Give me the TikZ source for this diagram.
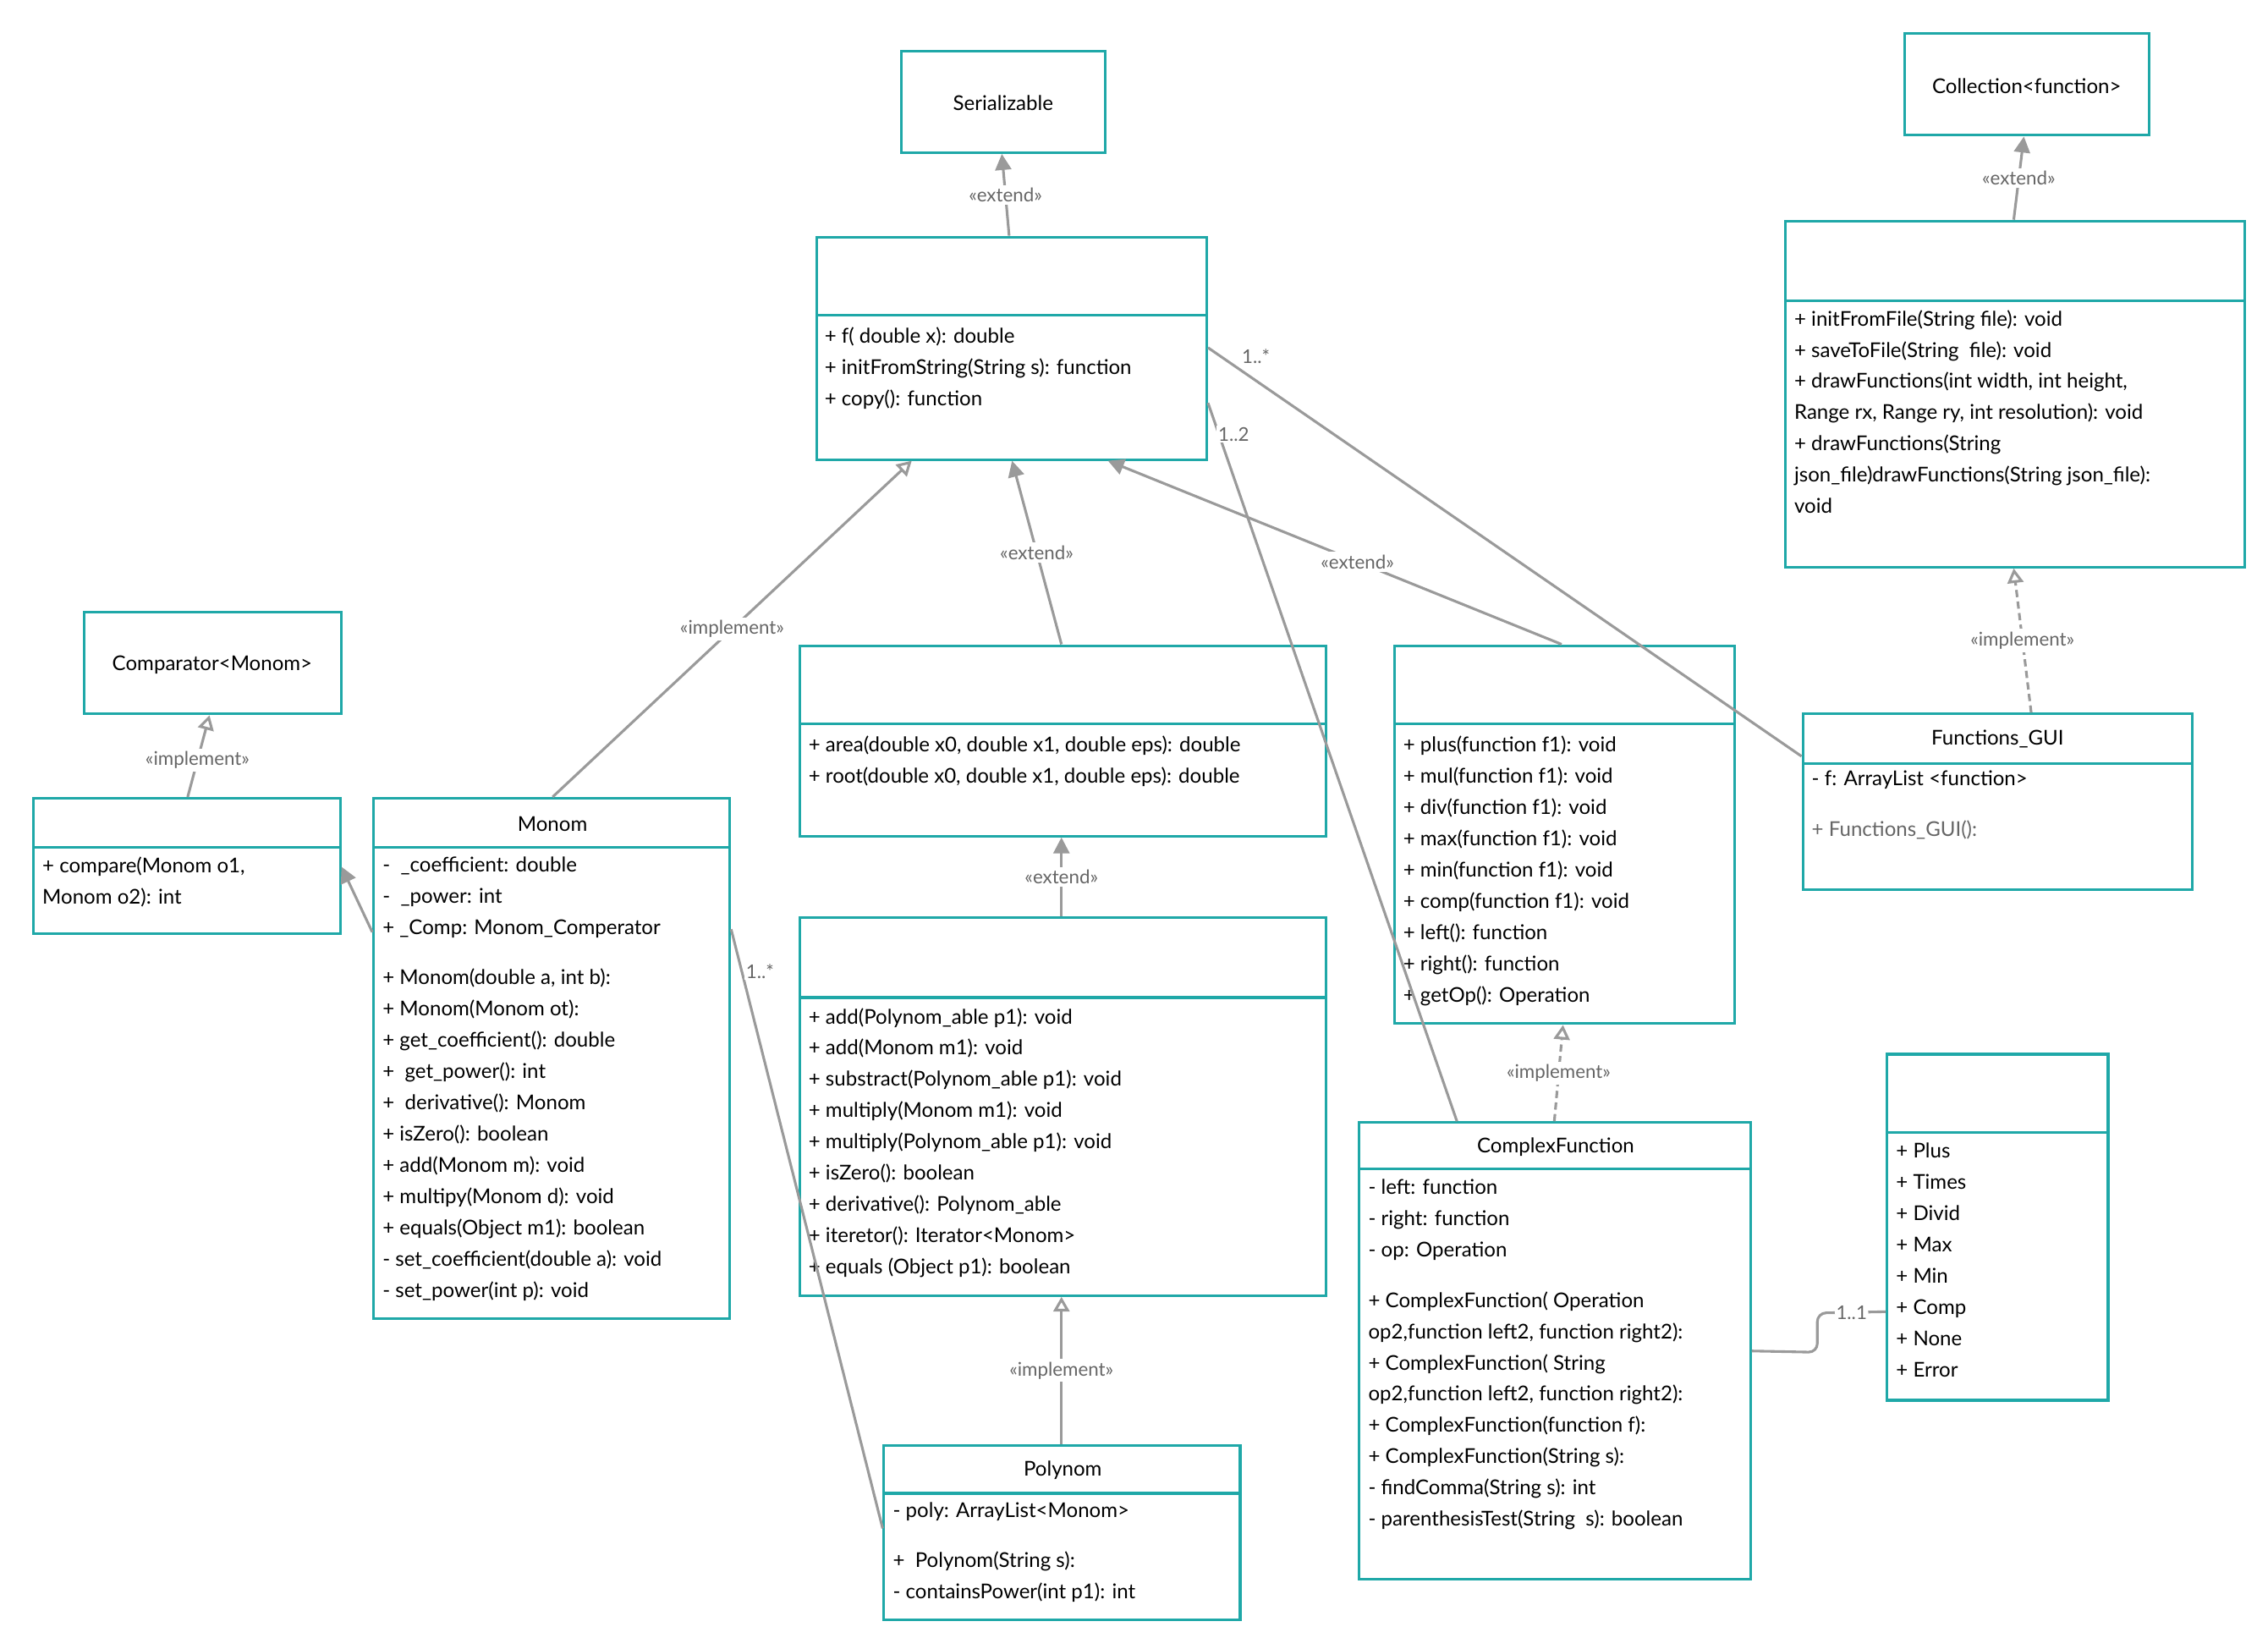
\documentclass[tikz,border=0pt]{standalone}
\usepackage{fontspec}
\setmainfont{Lato}
\usetikzlibrary{arrows.meta,fit}
\definecolor{teal1}{HTML}{1FA8A8}
\definecolor{ln}{HTML}{9A9A9A}
\definecolor{lbl}{HTML}{666666}
\newcommand\ubox[5]{\node[ubx,fit={(#2,#3)(#4,#5)}] (#1) {};}
\newcommand\udiv[4]{\draw[teal1,line width=1.8pt] (#1,#3) -- (#2,#3);}
\newcommand\utxt[3]{\node[utx,anchor=north west] at (#1,#2-11) {#3};}
\begin{document}
\begin{tikzpicture}[x=1pt,y=-1pt,
 ubx/.style={draw=teal1,line width=1.8pt,inner sep=0pt},
 utx/.style={inner sep=0pt,align=left,font=\fontsize{14}{21.5}\selectfont},
 uctr/.style={inner sep=0pt,align=center,font=\fontsize{14}{21.5}\selectfont},
 lab/.style={fill=white,text=lbl,inner sep=2pt,font=\fontsize{13}{15}\selectfont},
 con/.style={draw=ln,line width=1.8pt},
 fa/.style={con,-{Triangle[length=11pt,width=11pt,fill=ln]}},
 oa/.style={con,-{Triangle[open,length=10pt,width=11pt,fill=white]}},
 da/.style={oa,dashed,dash pattern=on 5pt off 3pt},
 ml/.style={fill=white,text=lbl,inner sep=1pt,font=\fontsize{13}{15}\selectfont}]
\useasboundingbox[fill=white] (0,0) rectangle (1560,1134);
% boxes
\ubox{ser}{620}{35}{760}{105}
\node[uctr] at (690,71) {Serializable};
\ubox{coll}{1310}{23}{1478}{93}
\node[uctr] at (1394,59) {Collection<function>};
\ubox{func}{562}{163}{830}{316}
\udiv{562}{830}{217}
\node[uctr] at (696,192) {<<Interface>>\\function};
\utxt{567}{236}{+ f( double x): double\\+ initFromString(String s): function\\+ copy(): function}
\ubox{funcs}{1228}{152}{1544}{390}
\udiv{1228}{1544}{207}
\node[uctr] at (1386,180) {<<Interface>>\\functions};
\utxt{1234}{224}{+ initFromFile(String file): void\\+ saveToFile(String\ \ file): void\\+ drawFunctions(int width, int height,\\Range rx, Range ry, int resolution): void\\+ drawFunctions(String\\json\_file)drawFunctions(String json\_file):\\void}
\ubox{comp}{58}{421}{235}{491}
\node[uctr] at (146,457) {Comparator<Monom>};
\ubox{mcomp}{23}{549}{234}{642}
\udiv{23}{234}{583}
\node[uctr] at (128,567) {Monom\_Comperator};
\utxt{29}{600}{+ compare(Monom o1,\\Monom o2): int}
\ubox{monom}{257}{549}{502}{907}
\udiv{257}{502}{583}\udiv{257}{502}{659}
\node[uctr] at (380,567) {Monom};
\utxt{263}{600}{-\ \ \_coefficient: double\\-\ \ \_power: int\\+ \_Comp: Monom\_Comperator}
\utxt{263}{677}{+ Monom(double a, int b):\\+ Monom(Monom ot):\\+ get\_coefficient(): double\\+\ \ get\_power(): int\\+\ \ derivative(): Monom\\+ isZero(): boolean\\+ add(Monom m): void\\+ multipy(Monom d): void\\+ equals(Object m1): boolean\\- set\_coefficient(double a): void\\- set\_power(int p): void}
\ubox{cont}{550}{444}{912}{575}
\udiv{550}{912}{498}
\node[uctr] at (731,472) {<<Interface>>\\cont\_function};
\utxt{556}{517}{+ area(double x0, double x1, double eps): double\\+ root(double x0, double x1, double eps): double}
\ubox{cplx}{959}{444}{1193}{704}
\udiv{959}{1193}{498}
\node[uctr] at (1076,472) {<<Interface>>\\{\color{lbl}complex\_function}};
\utxt{965}{517}{+ plus(function f1): void\\+ mul(function f1): void\\+ div(function f1): void\\+ max(function f1): void\\+ min(function f1): void\\+ comp(function f1): void\\+ left(): function\\+ right(): function\\+ getOp(): Operation}
\ubox{gui}{1240}{491}{1508}{612}
\udiv{1240}{1508}{525}\udiv{1240}{1508}{558}
\node[uctr] at (1374,508) {Functions\_GUI};
\utxt{1246}{541}{- f: ArrayList <function>}
\utxt{1246}{575}{{\color{lbl}+ Functions\_GUI():}}
\ubox{pable}{550}{631}{912}{891}
\udiv{550}{912}{686}
\node[uctr] at (731,659) {<<Interface>>\\Polynom\_able};
\utxt{556}{704}{+ add(Polynom\_able p1): void\\+ add(Monom m1): void\\+ substract(Polynom\_able p1): void\\+ multiply(Monom m1): void\\+ multiply(Polynom\_able p1): void\\+ isZero(): boolean\\+ derivative(): Polynom\_able\\+ iteretor(): Iterator<Monom>\\+ equals (Object p1): boolean}
\ubox{cf}{935}{772}{1204}{1086}
\udiv{935}{1204}{804}\udiv{935}{1204}{881}
\node[uctr] at (1070,789) {ComplexFunction};
\utxt{941}{822}{- left: function\\- right: function\\- op: Operation}
\utxt{941}{899}{+ ComplexFunction( Operation\\op2,function left2, function right2):\\+ ComplexFunction( String\\op2,function left2, function right2):\\+ ComplexFunction(function f):\\+ ComplexFunction(String s):\\- findComma(String s): int\\- parenthesisTest(String\ \ s): boolean}
\ubox{op}{1298}{725}{1450}{963}
\udiv{1298}{1450}{779}
\node[uctr] at (1373,753) {<<Enumeration>>\\Operation};
\utxt{1304}{797}{+ Plus\\+ Times\\+ Divid\\+ Max\\+ Min\\+ Comp\\+ None\\+ Error}
\ubox{poly}{608}{994}{853}{1114}
\udiv{608}{853}{1027}\udiv{608}{853}{1059}
\node[uctr] at (731,1011) {Polynom};
\utxt{614}{1044}{- poly: ArrayList<Monom>}
\utxt{614}{1078}{+\ \ Polynom(String s):\\- containsPower(int p1): int}
% connectors
\draw[fa] ([xshift=133pt]func.north west) -- node[lab]{<<extend>>} ([xshift=70pt]ser.south west);
\draw[fa] ([xshift=158pt]funcs.north west) -- node[lab]{<<extend>>} ([xshift=83pt]coll.south west);
\draw[oa] ([xshift=107pt]mcomp.north west) -- node[lab,pos=0.45]{<<implement>>} ([xshift=87pt]comp.south west);
\draw[oa] ([xshift=124pt]monom.north west) -- node[lab,pos=0.5]{<<implement>>} ([xshift=66pt]func.south west);
\draw[fa] ([xshift=181pt]cont.north west) -- node[lab]{<<extend>>} ([xshift=135pt]func.south west);
\draw[fa] ([xshift=116pt]cplx.north west) -- node[lab,pos=0.45]{<<extend>>} ([xshift=201pt]func.south west);
\draw[fa] ([xshift=181pt]pable.north west) -- node[lab]{<<extend>>} ([xshift=181pt]cont.south west);
\draw[oa] ([xshift=123pt]poly.north west) -- node[lab]{<<implement>>} ([xshift=181pt]pable.south west);
\draw[da] ([xshift=135pt]cf.north west) -- node[lab]{<<implement>>} ([xshift=117pt]cplx.south west);
\draw[da] ([xshift=158pt]gui.north west) -- node[lab]{<<implement>>} ([xshift=158pt]funcs.south west);
\draw[fa] ([yshift=-93pt]monom.north west) -- ([yshift=-48pt]mcomp.north east);
\draw[con] ([yshift=-30pt]gui.north west) -- ([yshift=-77pt]func.north east) node[ml,pos=0.95,above right=1pt]{1..*};
\draw[con] ([xshift=68pt]cf.north west) -- ([yshift=-115pt]func.north east) node[ml,pos=0.97,below right=0pt]{1..2};
\draw[con] ([yshift=-58pt]poly.north west) -- ([yshift=-91pt]monom.north east) node[ml,pos=0.93,right=1pt]{1..*};
\draw[con,rounded corners=6pt] ([yshift=-158pt]cf.north east) -- (1250,930) -- (1250,903) -- node[ml]{1..1} ([yshift=-178pt]op.north west);
\end{tikzpicture}
\end{document}
